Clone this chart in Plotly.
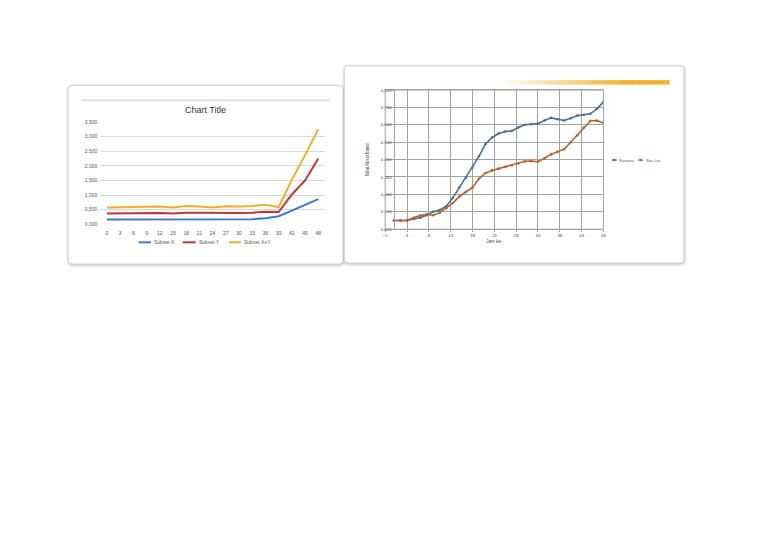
import plotly.graph_objects as go

W, H = 768, 543

# ---------------- data: left chart ----------------
left_cats = ["0", "3", "6", "9", "12", "15", "18", "21", "24", "27", "30", "33", "36", "39", "42", "45", "48"]
subset_x = [0.17, 0.17, 0.18, 0.18, 0.18, 0.16, 0.18, 0.18, 0.16, 0.17, 0.17, 0.18, 0.21, 0.28, 0.47, 0.66, 0.86]
subset_y = [0.37, 0.38, 0.39, 0.39, 0.39, 0.37, 0.40, 0.40, 0.39, 0.40, 0.39, 0.40, 0.43, 0.42, 1.02, 1.50, 2.25]
subset_xy = [0.58, 0.59, 0.60, 0.61, 0.61, 0.58, 0.63, 0.61, 0.58, 0.62, 0.61, 0.63, 0.67, 0.59, 1.52, 2.37, 3.25]
left_yticks = [0, 0.5, 1.0, 1.5, 2.0, 2.5, 3.0, 3.5]
left_yticklabels = ["0,000", "0,500", "1,000", "1,500", "2,000", "2,500", "3,000", "3,500"]
left_title = "Chart Title"
left_names = ["Subset X", "Subset Y", "Subset X+Y"]

# ---------------- data: right chart ----------------
right_hours = [0, 1.5, 3, 4.5, 6, 7.5, 9, 10.5, 12, 13.5, 15, 16.5, 18, 19.5, 21, 22.5, 24,
               25.5, 27, 28.5, 30, 31.5, 33, 34.5, 36, 37.5, 39, 40.5, 42, 43.5, 45, 46.5, 48]
sucrosa = [0.050, 0.049, 0.050, 0.058, 0.066, 0.080, 0.100, 0.110, 0.132, 0.180, 0.240, 0.295,
           0.355, 0.420, 0.490, 0.527, 0.550, 0.562, 0.565, 0.585, 0.600, 0.603, 0.607, 0.625,
           0.640, 0.632, 0.625, 0.638, 0.653, 0.658, 0.663, 0.692, 0.732]
suclac = [0.050, 0.050, 0.050, 0.065, 0.078, 0.085, 0.080, 0.095, 0.120, 0.150, 0.188, 0.215,
          0.240, 0.290, 0.323, 0.338, 0.348, 0.358, 0.367, 0.378, 0.390, 0.392, 0.388, 0.408,
          0.430, 0.445, 0.460, 0.500, 0.540, 0.585, 0.622, 0.625, 0.610]
right_xticks = [-2, 3, 8, 13, 18, 23, 28, 33, 38, 43, 48]
right_xrange = [-2, 48]
right_ycross = 0  # value of x where the y axis crosses
right_yticks = [0, 0.1, 0.2, 0.3, 0.4, 0.5, 0.6, 0.7, 0.8]
right_yticklabels = ["0,000", "0,100", "0,200", "0,300", "0,400", "0,500", "0,600", "0,700", "0,800"]
right_names = ["Sucrosa", "Suc-Lac"]
right_xtitle = "Jam ke-"
right_ytitle = "Nilai Absorbansi"

# colours
C_BLUE, C_RED, C_YEL = "#3b78d6", "#cc3232", "#f0b027"
C_SUC, C_SL = "#4a6d96", "#b9622c"
C_GRID2 = "#a3a3a3"
FONT = "Liberation Sans, Arial, sans-serif"


def px(x):
    return x / W


def py(y):
    return 1 - y / H


def rrect(x0, y0, x1, y1, r):
    pts = [
        ("M", [(x0 + r, y0)]), ("L", [(x1 - r, y0)]), ("Q", [(x1, y0), (x1, y0 + r)]),
        ("L", [(x1, y1 - r)]), ("Q", [(x1, y1), (x1 - r, y1)]), ("L", [(x0 + r, y1)]),
        ("Q", [(x0, y1), (x0, y1 - r)]), ("L", [(x0, y0 + r)]), ("Q", [(x0, y0), (x0 + r, y0)]),
    ]
    s = ""
    for cmd, ps in pts:
        s += cmd + " " + " ".join(f"{px(a):.5f},{py(b):.5f}" for a, b in ps) + " "
    return s + "Z"


shapes = []
annotations = []

# cards with soft shadow
for (x0, y0, x1, y1) in [(66.5, 83.5, 343.5, 264.0), (344.5, 63.5, 686.5, 263.0)]:
    for k, a in [(3, 0.04), (2, 0.06), (1, 0.08)]:
        shapes.append(dict(type="path", xref="paper", yref="paper", layer="below",
                           path=rrect(x0 - k + 1, y0 - k + 1.5, x1 + k, y1 + k + 0.5, 6),
                           fillcolor=f"rgba(0,0,0,{a})", line=dict(width=0)))
    shapes.append(dict(type="path", xref="paper", yref="paper", layer="below",
                       path=rrect(x0, y0, x1, y1, 5), fillcolor="white",
                       line=dict(color="#cfcfcf", width=1)))

# left chart top bar
shapes.append(dict(type="rect", xref="paper", yref="paper", layer="below",
                   x0=px(80), x1=px(330), y0=py(97), y1=py(99.5),
                   fillcolor="#e4e4e4", line=dict(width=0)))

# right chart gradient bar
n = 40
gx0, gx1, gfull = 500.0, 672.0, 625.0
for i in range(n):
    xa = gx0 + (gx1 - gx0) * i / n
    xb = gx0 + (gx1 - gx0) * (i + 1) / n + 0.3
    t = min(1.0, (xa - gx0) / (gfull - gx0))
    r = round(255 + (242 - 255) * t)
    g = round(255 + (178 - 255) * t)
    b = round(255 + (40 - 255) * t)
    shapes.append(dict(type="rect", xref="paper", yref="paper", layer="below",
                       x0=px(xa), x1=px(min(xb, gx1)), y0=py(78), y1=py(82.5),
                       fillcolor=f"rgb({r},{g},{b})", line=dict(width=0)))

fig = go.Figure()

# left chart traces
for vals, name, col in [(subset_x, left_names[0], C_BLUE), (subset_y, left_names[1], C_RED),
                        (subset_xy, left_names[2], C_YEL)]:
    fig.add_trace(go.Scatter(x=left_cats, y=vals, name=name, mode="lines",
                             line=dict(color=col, width=2), xaxis="x", yaxis="y",
                             showlegend=False))

# right chart traces
for vals, name, col in [(sucrosa, right_names[0], C_SUC), (suclac, right_names[1], C_SL)]:
    fig.add_trace(go.Scatter(x=right_hours, y=vals, name=name, mode="lines+markers",
                             line=dict(color=col, width=1.6), marker=dict(size=2.6, color=col),
                             xaxis="x2", yaxis="y2", showlegend=False))

# left legend (manual)
for (lx0, lx1, tx), name, col in zip([(137.5, 150, 151), (182, 195, 196), (228.5, 240.5, 241.5)],
                                      left_names, [C_BLUE, C_RED, C_YEL]):
    shapes.append(dict(type="line", xref="paper", yref="paper", x0=px(lx0), x1=px(lx1),
                       y0=py(242), y1=py(242), line=dict(color=col, width=2)))
    annotations.append(dict(x=px(tx), y=py(242), xref="paper", yref="paper", text=name,
                            showarrow=False, xanchor="left", yanchor="middle",
                            font=dict(family=FONT, size=5, color="#555555")))

# right legend (manual)
for (mx, tx), name, col in zip([(616.3, 619.3), (642.8, 645.8)], right_names, [C_SUC, C_SL]):
    shapes.append(dict(type="line", xref="paper", yref="paper", x0=px(mx - 2.5), x1=px(mx + 2.5),
                       y0=py(158.8), y1=py(158.8), line=dict(color=col, width=1.2)))
    shapes.append(dict(type="circle", xref="paper", yref="paper", x0=px(mx - 1.3), x1=px(mx + 1.3),
                       y0=py(158.8 - 1.3), y1=py(158.8 + 1.3), fillcolor=col, line=dict(width=0)))
    annotations.append(dict(x=px(tx), y=py(158.8), xref="paper", yref="paper", text=name,
                            showarrow=False, xanchor="left", yanchor="middle",
                            font=dict(family=FONT, size=4, color="#555555")))

# titles
annotations.append(dict(x=px(205), y=py(108), xref="paper", yref="paper", text=left_title,
                        showarrow=False, xanchor="center", yanchor="middle",
                        font=dict(family=FONT, size=9, color="#333333")))

# right plot domain and the paper position where its y axis crosses (x = 0)
R_X0, R_X1 = 385.7, 605.4
r_dom = [px(R_X0), px(R_X1)]
r_cross = r_dom[0] + (r_dom[1] - r_dom[0]) * (right_ycross - right_xrange[0]) / (right_xrange[1] - right_xrange[0])

# right plot border
shapes.append(dict(type="rect", xref="paper", yref="paper", x0=r_dom[0], x1=r_dom[1],
                   y0=py(228.7), y1=py(88), line=dict(color=C_GRID2, width=1),
                   fillcolor="rgba(0,0,0,0)", layer="above"))

fig.update_layout(
    width=W, height=H, margin=dict(l=0, r=0, t=0, b=0),
    paper_bgcolor="white", plot_bgcolor="rgba(0,0,0,0)",
    showlegend=False, shapes=shapes, annotations=annotations,
    font=dict(family=FONT),
    xaxis=dict(domain=[px(99), px(325)], anchor="y", type="category",
               range=[-0.5, len(left_cats) - 0.5], showgrid=False, zeroline=False,
               showline=False, ticks="", tickfont=dict(size=5, color="#555555"),
               ticklabelstandoff=4, fixedrange=True),
    yaxis=dict(domain=[py(224), py(120)], anchor="x", range=[-0.004, 3.504],
               tickvals=left_yticks, ticktext=left_yticklabels, showgrid=True,
               gridcolor="#d8d8d8", gridwidth=1, zeroline=False, showline=False, ticks="",
               tickfont=dict(size=5, color="#555555"), ticklabelstandoff=2, fixedrange=True),
    xaxis2=dict(domain=r_dom, anchor="y2", range=right_xrange,
                tickvals=right_xticks, showgrid=True, gridcolor=C_GRID2, gridwidth=1,
                zeroline=False, showline=True, mirror=True, linecolor=C_GRID2, linewidth=1,
                ticks="outside", ticklen=2, tickcolor=C_GRID2,
                tickfont=dict(size=4.3, color="#444444"),
                title=dict(text=right_xtitle, font=dict(size=4.5, color="#444444"), standoff=2),
                fixedrange=True),
    yaxis2=dict(domain=[py(228.7), py(88)], anchor="free", position=r_cross, overlaying=None,
                range=[0, 0.8],
                tickvals=right_yticks, ticktext=right_yticklabels, showgrid=True,
                gridcolor=C_GRID2, gridwidth=1, zeroline=False, showline=True, mirror=False,
                linecolor=C_GRID2, linewidth=1, ticks="outside", ticklen=1.5, tickcolor=C_GRID2,
                tickfont=dict(size=4.3, color="#444444"),
                title=dict(text=right_ytitle, font=dict(size=4.5, color="#444444"), standoff=10),
                fixedrange=True),
)

fig.write_html("out.html", config={"displayModeBar": False})

# remove the browser's default page margin so the figure sits at the window origin
with open("out.html", "r", encoding="utf-8") as f:
    html = f.read()
html = html.replace("<body>", '<body style="margin:0;padding:0;overflow:hidden">', 1)
with open("out.html", "w", encoding="utf-8") as f:
    f.write(html)
